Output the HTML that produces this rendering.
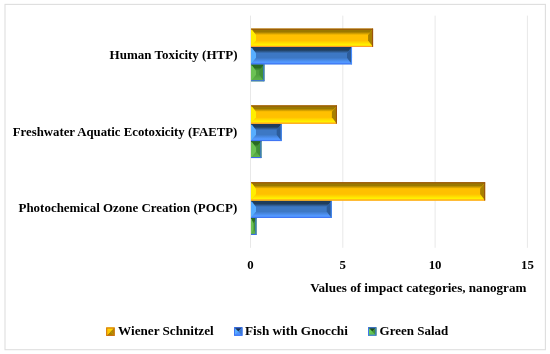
<!DOCTYPE html>
<html><head><meta charset="utf-8"><title>Chart</title>
<style>
html,body{margin:0;padding:0;background:#fff;}
svg{display:block;}
text{font-family:"Liberation Serif",serif;font-weight:bold;fill:#000;}
</style></head><body>
<svg width="550" height="354" viewBox="0 0 550 354">
<rect x="0" y="0" width="550" height="354" fill="#fff"/>
<rect x="5" y="4.4" width="540.4" height="345.3" fill="#fff" stroke="#dedede" stroke-width="1.1"/>
<defs>
<linearGradient id="t0" x1="0" y1="0" x2="0" y2="1"><stop offset="0" stop-color="#9a7800"/><stop offset="0.5" stop-color="#9a7800"/><stop offset="1" stop-color="#ffc000"/></linearGradient>
<linearGradient id="b0" x1="0" y1="0" x2="0" y2="1"><stop offset="0" stop-color="#ffc000"/><stop offset="0.65" stop-color="#fff000"/><stop offset="1" stop-color="#fff000"/></linearGradient>
<linearGradient id="t1" x1="0" y1="0" x2="0" y2="1"><stop offset="0" stop-color="#1f3d5c"/><stop offset="0.5" stop-color="#1f3d5c"/><stop offset="1" stop-color="#3d78c4"/></linearGradient>
<linearGradient id="b1" x1="0" y1="0" x2="0" y2="1"><stop offset="0" stop-color="#3d78c4"/><stop offset="0.65" stop-color="#5298ff"/><stop offset="1" stop-color="#5298ff"/></linearGradient>
<linearGradient id="t2" x1="0" y1="0" x2="0" y2="1"><stop offset="0" stop-color="#2a6a22"/><stop offset="0.5" stop-color="#2a6a22"/><stop offset="1" stop-color="#4f9f3f"/></linearGradient>
<linearGradient id="b2" x1="0" y1="0" x2="0" y2="1"><stop offset="0" stop-color="#4f9f3f"/><stop offset="0.65" stop-color="#5cb048"/><stop offset="1" stop-color="#5cb048"/></linearGradient>
</defs>
<line x1="250.50" y1="15.6" x2="250.50" y2="247.8" stroke="#e8e8e8" stroke-width="1"/>
<line x1="342.80" y1="15.6" x2="342.80" y2="247.8" stroke="#e8e8e8" stroke-width="1"/>
<line x1="435.10" y1="15.6" x2="435.10" y2="247.8" stroke="#e8e8e8" stroke-width="1"/>
<line x1="527.40" y1="15.6" x2="527.40" y2="247.8" stroke="#e8e8e8" stroke-width="1"/>
<g>
<rect x="251.00" y="64.25" width="13.35" height="17.00" fill="#4f9f3f"/>
<polygon points="251.00,64.25 264.35,64.25 259.35,70.65 256.00,70.65" fill="url(#t2)"/>
<polygon points="251.00,81.25 264.35,81.25 259.35,74.85 256.00,74.85" fill="url(#b2)"/>
<polygon points="251.00,64.25 256.00,70.65 256.00,74.85 251.00,81.25" fill="#6cc254"/>
<polygon points="264.35,64.25 259.35,70.65 259.35,74.85 264.35,81.25" fill="#3f8f38"/>
<line x1="251.00" y1="64.75" x2="264.35" y2="64.75" stroke="#2a6a22" stroke-width="1"/>
<line x1="251.00" y1="80.75" x2="264.35" y2="80.75" stroke="#3868f4" stroke-width="1"/>
<line x1="263.85" y1="64.25" x2="263.85" y2="81.25" stroke="#3f74f8" stroke-width="1"/>
</g>
<g>
<rect x="251.00" y="46.85" width="101.03" height="17.40" fill="#3d78c4"/>
<polygon points="251.00,46.85 352.03,46.85 347.03,53.25 256.00,53.25" fill="url(#t1)"/>
<polygon points="251.00,64.25 352.03,64.25 347.03,57.85 256.00,57.85" fill="url(#b1)"/>
<polygon points="251.00,46.85 256.00,53.25 256.00,57.85 251.00,64.25" fill="#58aeff"/>
<polygon points="352.03,46.85 347.03,53.25 347.03,57.85 352.03,64.25" fill="#2c5c9a"/>
<line x1="251.00" y1="47.35" x2="352.03" y2="47.35" stroke="#1f3d5c" stroke-width="1"/>
<line x1="251.00" y1="63.75" x2="352.03" y2="63.75" stroke="#3f74f4" stroke-width="1"/>
<line x1="351.53" y1="46.85" x2="351.53" y2="64.25" stroke="#4a90ff" stroke-width="1"/>
</g>
<g>
<rect x="251.00" y="28.65" width="122.07" height="18.20" fill="#ffc000"/>
<polygon points="251.00,28.65 373.07,28.65 368.07,35.05 256.00,35.05" fill="url(#t0)"/>
<polygon points="251.00,46.85 373.07,46.85 368.07,40.45 256.00,40.45" fill="url(#b0)"/>
<polygon points="251.00,28.65 256.00,35.05 256.00,40.45 251.00,46.85" fill="#ffee00"/>
<polygon points="373.07,28.65 368.07,35.05 368.07,40.45 373.07,46.85" fill="#a88000"/>
<line x1="251.00" y1="29.15" x2="373.07" y2="29.15" stroke="#9a5010" stroke-width="1"/>
<line x1="251.00" y1="46.35" x2="373.07" y2="46.35" stroke="#ff9030" stroke-width="1"/>
<line x1="372.57" y1="28.65" x2="372.57" y2="46.85" stroke="#9a5010" stroke-width="1"/>
</g>
<g>
<rect x="251.00" y="141.05" width="10.39" height="17.00" fill="#4f9f3f"/>
<polygon points="251.00,141.05 261.39,141.05 256.39,147.45 256.00,147.45" fill="url(#t2)"/>
<polygon points="251.00,158.05 261.39,158.05 256.39,151.65 256.00,151.65" fill="url(#b2)"/>
<polygon points="251.00,141.05 256.00,147.45 256.00,151.65 251.00,158.05" fill="#6cc254"/>
<polygon points="261.39,141.05 256.39,147.45 256.39,151.65 261.39,158.05" fill="#3f8f38"/>
<line x1="251.00" y1="141.55" x2="261.39" y2="141.55" stroke="#2a6a22" stroke-width="1"/>
<line x1="251.00" y1="157.55" x2="261.39" y2="157.55" stroke="#3868f4" stroke-width="1"/>
<line x1="260.89" y1="141.05" x2="260.89" y2="158.05" stroke="#3f74f8" stroke-width="1"/>
</g>
<g>
<rect x="251.00" y="123.65" width="30.70" height="17.40" fill="#3d78c4"/>
<polygon points="251.00,123.65 281.70,123.65 276.70,130.05 256.00,130.05" fill="url(#t1)"/>
<polygon points="251.00,141.05 281.70,141.05 276.70,134.65 256.00,134.65" fill="url(#b1)"/>
<polygon points="251.00,123.65 256.00,130.05 256.00,134.65 251.00,141.05" fill="#58aeff"/>
<polygon points="281.70,123.65 276.70,130.05 276.70,134.65 281.70,141.05" fill="#2c5c9a"/>
<line x1="251.00" y1="124.15" x2="281.70" y2="124.15" stroke="#1f3d5c" stroke-width="1"/>
<line x1="251.00" y1="140.55" x2="281.70" y2="140.55" stroke="#3f74f4" stroke-width="1"/>
<line x1="281.20" y1="123.65" x2="281.20" y2="141.05" stroke="#4a90ff" stroke-width="1"/>
</g>
<g>
<rect x="251.00" y="105.45" width="85.89" height="18.20" fill="#ffc000"/>
<polygon points="251.00,105.45 336.89,105.45 331.89,111.85 256.00,111.85" fill="url(#t0)"/>
<polygon points="251.00,123.65 336.89,123.65 331.89,117.25 256.00,117.25" fill="url(#b0)"/>
<polygon points="251.00,105.45 256.00,111.85 256.00,117.25 251.00,123.65" fill="#ffee00"/>
<polygon points="336.89,105.45 331.89,111.85 331.89,117.25 336.89,123.65" fill="#a88000"/>
<line x1="251.00" y1="105.95" x2="336.89" y2="105.95" stroke="#9a5010" stroke-width="1"/>
<line x1="251.00" y1="123.15" x2="336.89" y2="123.15" stroke="#ff9030" stroke-width="1"/>
<line x1="336.39" y1="105.45" x2="336.39" y2="123.65" stroke="#9a5010" stroke-width="1"/>
</g>
<g>
<rect x="251.00" y="217.90" width="5.41" height="17.00" fill="#4f9f3f"/>
<polygon points="251.00,217.90 256.41,217.90 253.70,224.30 253.70,224.30" fill="url(#t2)"/>
<polygon points="251.00,234.90 256.41,234.90 253.70,228.50 253.70,228.50" fill="url(#b2)"/>
<polygon points="251.00,217.90 253.70,224.30 253.70,228.50 251.00,234.90" fill="#6cc254"/>
<polygon points="256.41,217.90 253.70,224.30 253.70,228.50 256.41,234.90" fill="#3f8f38"/>
<line x1="251.00" y1="218.40" x2="256.41" y2="218.40" stroke="#2a6a22" stroke-width="1"/>
<line x1="251.00" y1="234.40" x2="256.41" y2="234.40" stroke="#3868f4" stroke-width="1"/>
<line x1="255.91" y1="217.90" x2="255.91" y2="234.90" stroke="#3f74f8" stroke-width="1"/>
</g>
<g>
<rect x="251.00" y="200.50" width="80.72" height="17.40" fill="#3d78c4"/>
<polygon points="251.00,200.50 331.72,200.50 326.72,206.90 256.00,206.90" fill="url(#t1)"/>
<polygon points="251.00,217.90 331.72,217.90 326.72,211.50 256.00,211.50" fill="url(#b1)"/>
<polygon points="251.00,200.50 256.00,206.90 256.00,211.50 251.00,217.90" fill="#58aeff"/>
<polygon points="331.72,200.50 326.72,206.90 326.72,211.50 331.72,217.90" fill="#2c5c9a"/>
<line x1="251.00" y1="201.00" x2="331.72" y2="201.00" stroke="#1f3d5c" stroke-width="1"/>
<line x1="251.00" y1="217.40" x2="331.72" y2="217.40" stroke="#3f74f4" stroke-width="1"/>
<line x1="331.22" y1="200.50" x2="331.22" y2="217.90" stroke="#4a90ff" stroke-width="1"/>
</g>
<g>
<rect x="251.00" y="182.30" width="234.13" height="18.20" fill="#ffc000"/>
<polygon points="251.00,182.30 485.13,182.30 480.13,188.70 256.00,188.70" fill="url(#t0)"/>
<polygon points="251.00,200.50 485.13,200.50 480.13,194.10 256.00,194.10" fill="url(#b0)"/>
<polygon points="251.00,182.30 256.00,188.70 256.00,194.10 251.00,200.50" fill="#ffee00"/>
<polygon points="485.13,182.30 480.13,188.70 480.13,194.10 485.13,200.50" fill="#a88000"/>
<line x1="251.00" y1="182.80" x2="485.13" y2="182.80" stroke="#9a5010" stroke-width="1"/>
<line x1="251.00" y1="200.00" x2="485.13" y2="200.00" stroke="#ff9030" stroke-width="1"/>
<line x1="484.63" y1="182.30" x2="484.63" y2="200.50" stroke="#9a5010" stroke-width="1"/>
</g>
<text x="109.6" y="58.9" font-size="13.5" textLength="127.9" lengthAdjust="spacingAndGlyphs">Human Toxicity (HTP)</text>
<text x="12.8" y="135.6" font-size="13.5" textLength="224.5" lengthAdjust="spacingAndGlyphs">Freshwater Aquatic Ecotoxicity (FAETP)</text>
<text x="18.5" y="212.4" font-size="13.5" textLength="218.8" lengthAdjust="spacingAndGlyphs">Photochemical Ozone Creation (POCP)</text>
<text x="250.50" y="269" font-size="12.8" text-anchor="middle">0</text>
<text x="342.80" y="269" font-size="12.8" text-anchor="middle">5</text>
<text x="435.10" y="269" font-size="12.8" text-anchor="middle">10</text>
<text x="527.40" y="269" font-size="12.8" text-anchor="middle">15</text>
<text x="310.2" y="292" font-size="13.5" textLength="216.2" lengthAdjust="spacingAndGlyphs">Values of impact categories, nanogram</text>
<rect x="106.20" y="327.50" width="8.4" height="8.4" fill="#ffd21a"/><polygon points="106.20,327.50 114.60,327.50 110.40,331.70" fill="#ffd400"/><polygon points="106.20,335.90 114.60,335.90 110.40,331.70" fill="#a88200"/><polygon points="106.20,327.50 106.20,335.90 110.40,331.70" fill="#ffc800"/><polygon points="114.60,327.50 114.60,335.90 110.40,331.70" fill="#b08800"/><rect x="106.70" y="328.00" width="7.4" height="7.4" fill="none" stroke="#d06f14" stroke-width="1"/>
<text x="118.1" y="335.3" font-size="13.5" textLength="95.6" lengthAdjust="spacingAndGlyphs">Wiener Schnitzel</text>
<rect x="234.00" y="327.30" width="8.4" height="8.4" fill="#4f9cff"/><polygon points="234.00,327.30 242.40,327.30 238.20,331.50" fill="#1a3050"/><polygon points="234.00,335.70 242.40,335.70 238.20,331.50" fill="#4f92ff"/><polygon points="234.00,327.30 234.00,335.70 238.20,331.50" fill="#58aeff"/><polygon points="242.40,327.30 242.40,335.70 238.20,331.50" fill="#3d7ac6"/><rect x="234.50" y="327.80" width="7.4" height="7.4" fill="none" stroke="#3f74f4" stroke-width="1"/>
<text x="245.0" y="335.3" font-size="13.5" textLength="102.9" lengthAdjust="spacingAndGlyphs">Fish with Gnocchi</text>
<rect x="368.00" y="327.30" width="8.4" height="8.4" fill="#5cc050"/><polygon points="368.00,327.30 376.40,327.30 372.20,331.50" fill="#1f4a1c"/><polygon points="368.00,335.70 376.40,335.70 372.20,331.50" fill="#62c050"/><polygon points="368.00,327.30 368.00,335.70 372.20,331.50" fill="#66cc58"/><polygon points="376.40,327.30 376.40,335.70 372.20,331.50" fill="#3f8f3a"/><rect x="368.50" y="327.80" width="7.4" height="7.4" fill="none" stroke="#3f74f4" stroke-width="1"/>
<text x="379.6" y="335.3" font-size="13.5" textLength="68.7" lengthAdjust="spacingAndGlyphs">Green Salad</text>
</svg></body></html>
